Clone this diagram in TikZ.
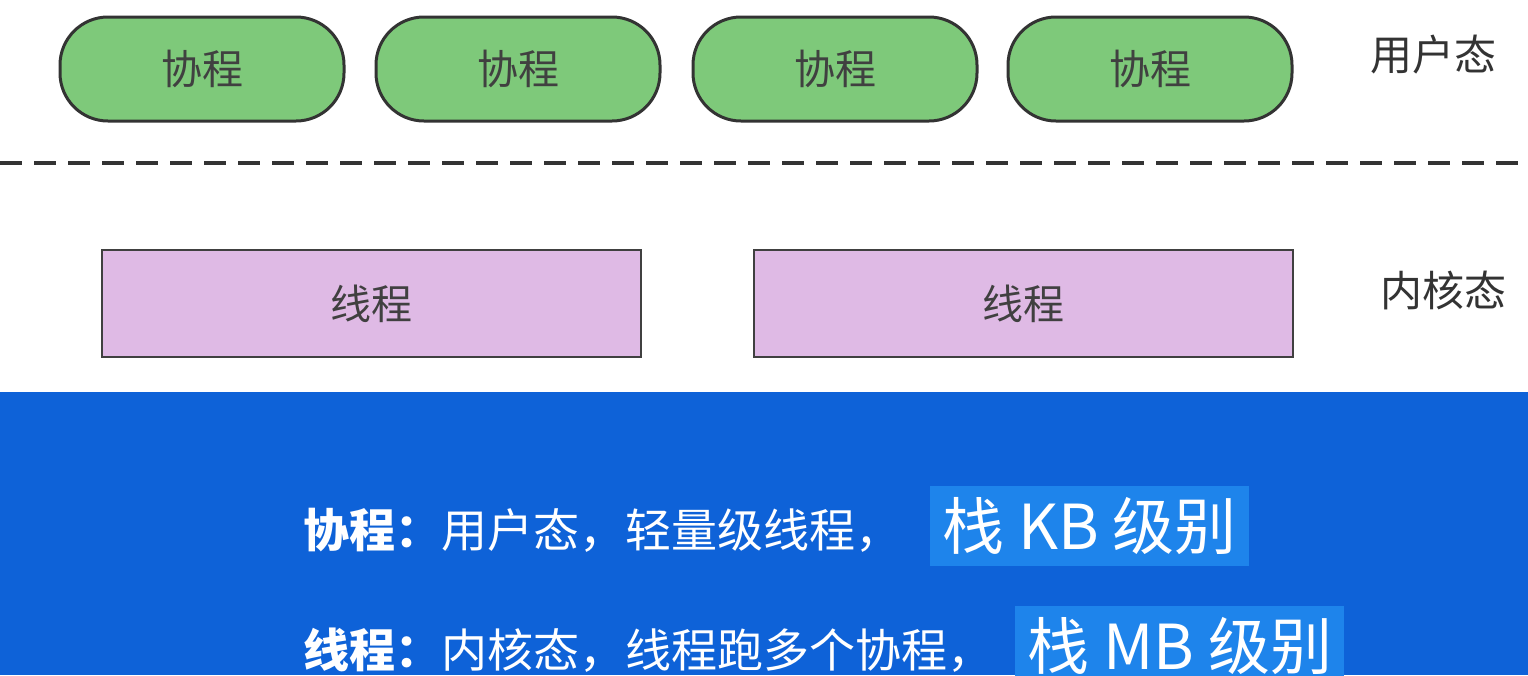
\documentclass[tikz,border=0pt]{standalone}
\usepackage{fontspec}
\setmainfont{Noto Sans CJK SC}
\definecolor{pillg}{RGB}{126,201,122}
\definecolor{thrp}{RGB}{223,186,229}
\definecolor{bgblue}{RGB}{14,98,216}
\definecolor{hlblue}{RGB}{30,132,235}
\begin{document}
\begin{tikzpicture}[x=1pt,y=-1pt,
 pill/.style={draw=black!80,line width=3pt,fill=pillg,rounded corners=48pt,minimum width=284pt,minimum height=104pt,font=\fontsize{41}{46}\selectfont,text=black!75},
 thr/.style={draw=black!75,line width=2pt,fill=thrp,minimum width=539pt,minimum height=107pt,font=\fontsize{41}{46}\selectfont,text=black!75},
 lbl/.style={font=\fontsize{42}{46}\selectfont,text=black!80},
 btxt/.style={font=\fontsize{46}{50}\selectfont,text=white,anchor=west},
 hl/.style={fill=hlblue,text=white,font=\fontsize{62}{66}\selectfont,anchor=west,inner xsep=12pt,minimum height=80pt}]
\useasboundingbox (0,0) rectangle (1528,675);
\fill[white] (0,0) rectangle (1528,392);
\fill[bgblue] (0,392) rectangle (1528,675);
\node[pill] (c1) at (202,69) {协程};
\node[pill] (c2) at (518,69) {协程};
\node[pill] (c3) at (835,69) {协程};
\node[pill] (c4) at (1150,69) {协程};
\node[lbl] (u) at (1433,55) {用户态};
\coordinate (dl) at (0,163);
\coordinate (dr) at (1528,163);
\draw[black!80,line width=4pt,dash pattern=on 22pt off 12pt] (dl) -- (dr);
\node[thr] (t1) at (371.5,303.5) {线程};
\node[thr] (t2) at (1023,303.5) {线程};
\node[lbl] (k) at (1443,290) {内核态};
\node[btxt] (l1) at (300,530) {\textbf{协程：}用户态，轻量级线程，};
\node[hl] (h1) at (930,526) {栈 KB 级别};
\node[btxt] (l2) at (300,650) {\textbf{线程：}内核态，线程跑多个协程，};
\node[hl] (h2) at (1015,646) {栈 MB 级别};
\end{tikzpicture}
\end{document}
